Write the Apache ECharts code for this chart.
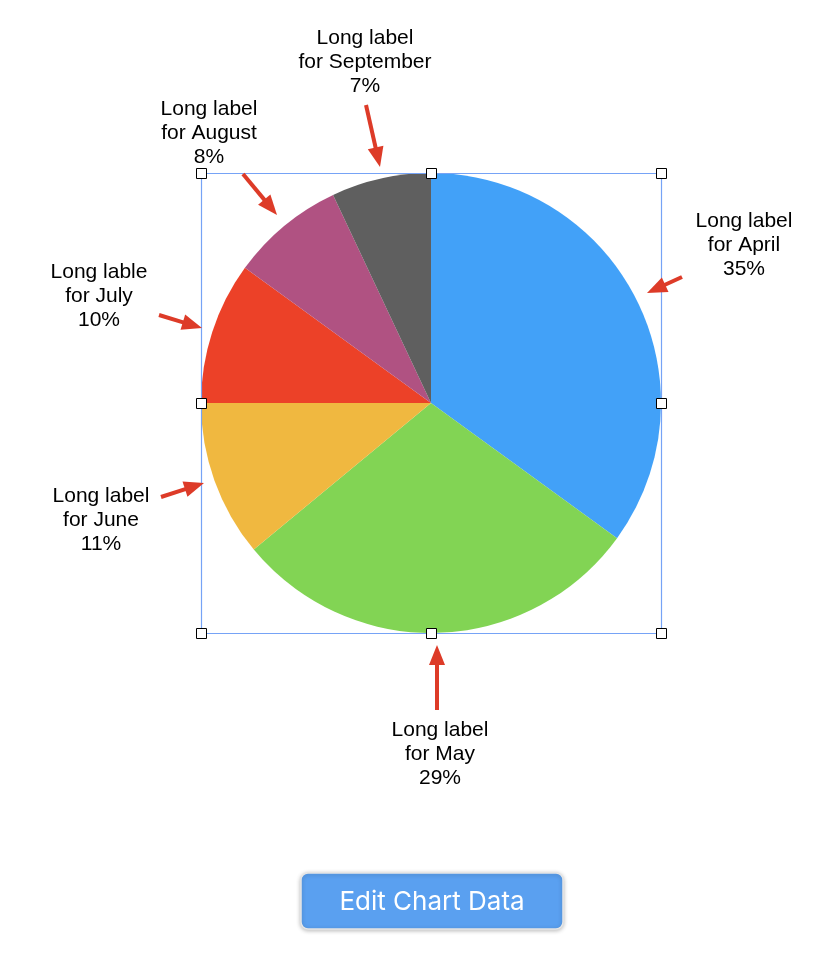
<!DOCTYPE html>
<html>
<head>
<meta charset="utf-8">
<script src="https://cdn.jsdelivr.net/npm/echarts@6/dist/echarts.min.js"></script>
<style>
html,body{margin:0;padding:0;background:#fff;}
#chart{width:826px;height:966px;}
</style>
</head>
<body>
<div id="chart"></div>
<script>
const categories = ["Long label\nfor April", "Long label\nfor May", "Long label\nfor June", "Long lable\nfor July", "Long label\nfor August", "Long label\nfor September"];
const values = [35, 29, 11, 10, 8, 7];
const colors = ["#42a1f8", "#82d454", "#f0b840", "#ec4128", "#b05282", "#5f5f5f"];

// label anchor positions (layout only)
const labelPos = [[744, 245], [440, 754], [101, 520], [99, 296], [209, 133], [365, 62]];
// arrow annotations [fromX, fromY, toX, toY] (layout only)
const arrows = [[682, 277, 647, 293], [437, 710, 437, 645], [161, 497, 204, 483], [159, 315, 202, 328], [243, 174, 277, 215], [366, 105, 380, 167]];

const chart = echarts.init(document.getElementById('chart'), null, {renderer: 'canvas'});

const graphics = [];
// selection box
const bx = 201, by = 173, bw = 460, bh = 460;
graphics.push({type: 'rect', z: 100, shape: {x: bx + 0.5, y: by + 0.5, width: bw, height: bh}, style: {fill: 'none', stroke: '#76a3f6', lineWidth: 1.2}});
[[bx, by], [bx + bw / 2, by], [bx + bw, by], [bx, by + bh / 2], [bx + bw, by + bh / 2], [bx, by + bh], [bx + bw / 2, by + bh], [bx + bw, by + bh]].forEach(p => {
  graphics.push({type: 'rect', z: 101, shape: {x: p[0] - 5 + 0.5, y: p[1] - 5 + 0.5, width: 10, height: 10}, style: {fill: '#fff', stroke: '#000', lineWidth: 1}});
});
// arrows
arrows.forEach(a => {
  const [x1, y1, x2, y2] = a;
  const dx = x2 - x1, dy = y2 - y1, L = Math.sqrt(dx * dx + dy * dy);
  const ux = dx / L, uy = dy / L, px = -uy, py = ux;
  const hl = 20, hw = 8;
  const bxh = x2 - ux * hl, byh = y2 - uy * hl;
  graphics.push({type: 'line', z: 102, shape: {x1: x1, y1: y1, x2: bxh + ux * 2, y2: byh + uy * 2}, style: {stroke: '#dd3b28', lineWidth: 4}});
  graphics.push({type: 'polygon', z: 102, shape: {points: [[x2, y2], [bxh + px * hw, byh + py * hw], [bxh - px * hw, byh - py * hw]]}, style: {fill: '#dd3b28'}});
});
// button
graphics.push({type: 'rect', z: 100, shape: {x: 301, y: 873, width: 262, height: 56, r: 7},
  style: {fill: '#5aa0f0', stroke: '#e6e6e6', lineWidth: 1.5, shadowBlur: 4, shadowColor: 'rgba(0,0,0,0.25)', shadowOffsetY: 1}});
graphics.push({type: 'text', z: 101, x: 432, y: 902, style: {text: 'Edit Chart Data', fill: '#fff', font: '26px "Inter", "Liberation Sans", sans-serif', align: 'center', verticalAlign: 'middle'}});

chart.setOption({
  animation: false,
  backgroundColor: '#fff',
  color: colors,
  graphic: graphics,
  series: [{
    type: 'pie',
    center: [431, 403],
    radius: 230,
    startAngle: 90,
    clockwise: true,
    silent: true,
    itemStyle: {borderWidth: 0},
    label: {
      show: true,
      position: 'outside',
      formatter: p => p.name + '\n' + p.value + '%',
      color: '#000',
      fontSize: 21,
      lineHeight: 24,
      fontFamily: '"Liberation Sans", Arial, sans-serif',
      align: 'center'
    },
    labelLine: {show: false},
    labelLayout: function (params) {
      const p = labelPos[params.dataIndex];
      return {x: p[0], y: p[1], align: 'center', verticalAlign: 'middle'};
    },
    data: categories.map((c, i) => ({name: c, value: values[i]}))
  }]
});
</script>
</body>
</html>
